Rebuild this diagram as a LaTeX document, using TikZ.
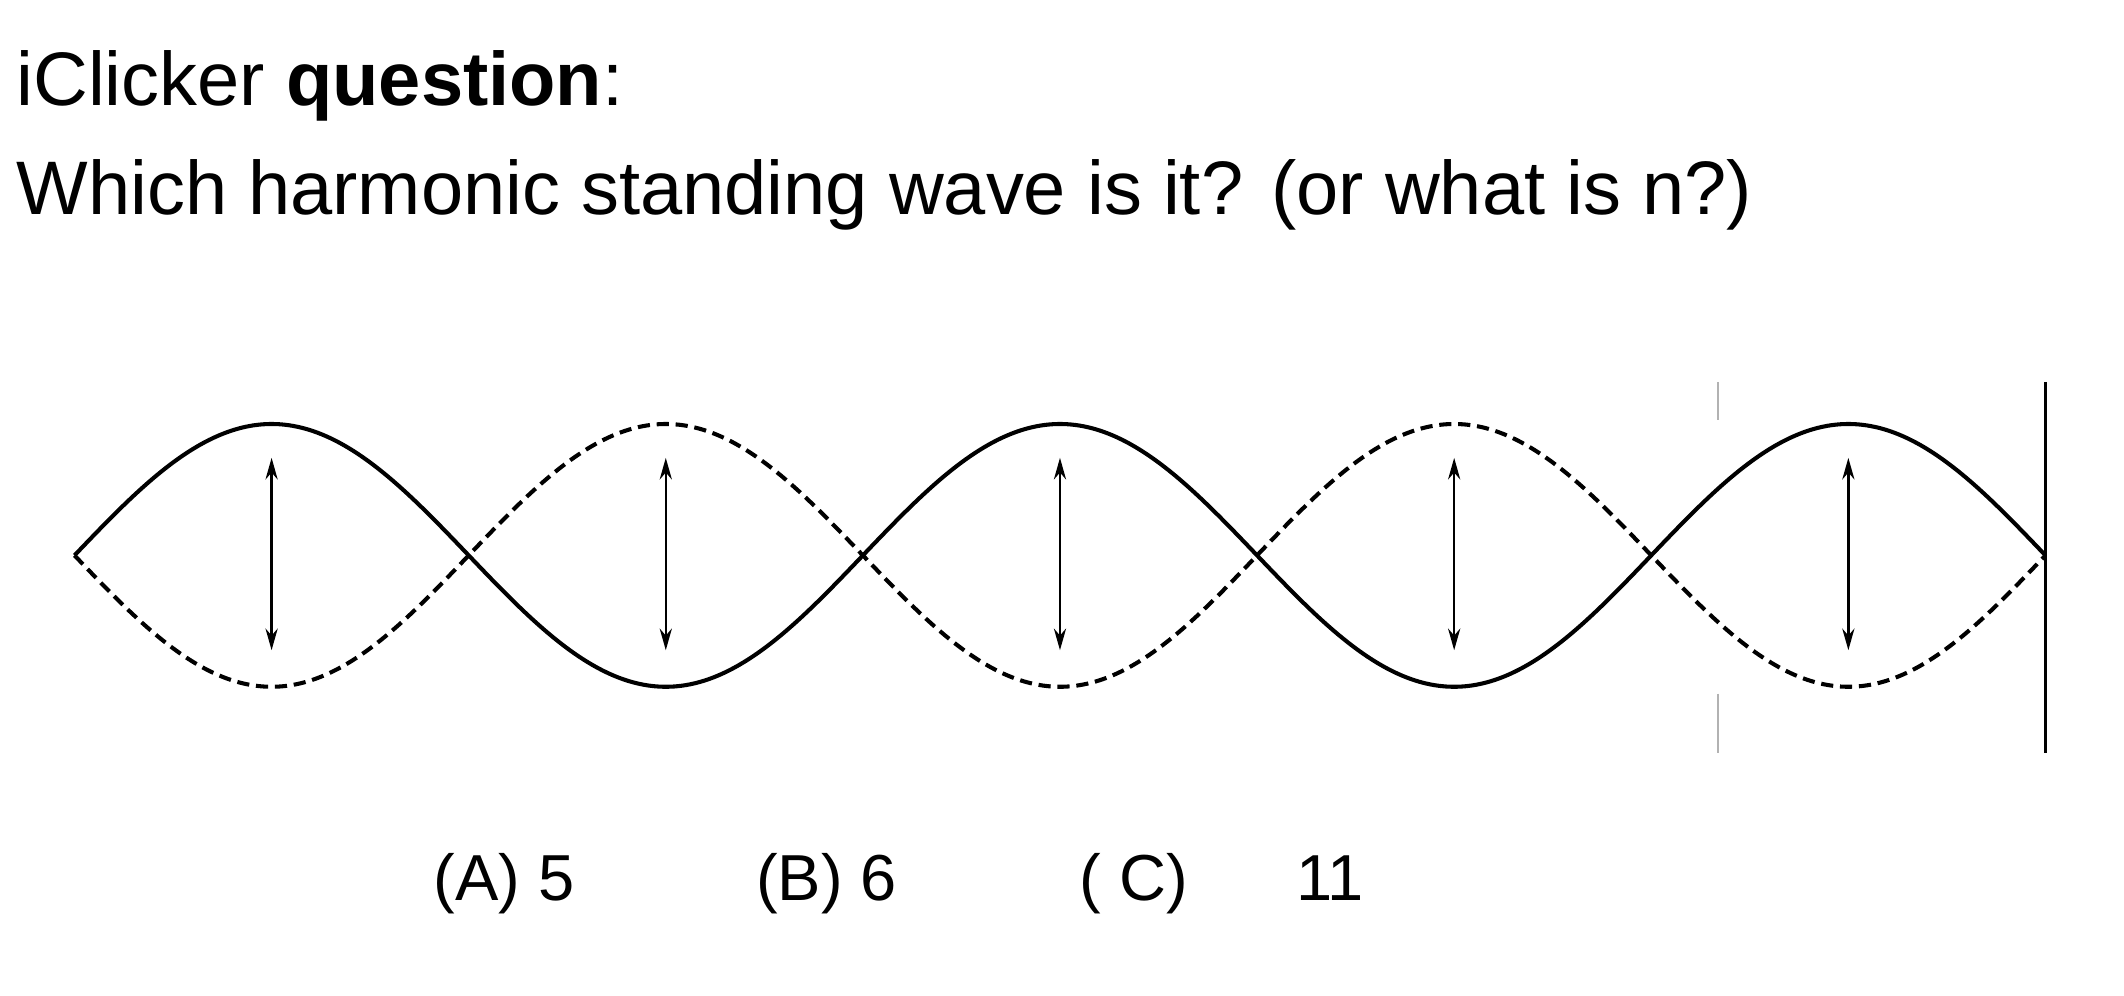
\documentclass[tikz,border=0pt]{standalone}
\usepackage{fontspec}
\setmainfont{Liberation Sans}
\usetikzlibrary{arrows.meta}
\begin{document}
\begin{tikzpicture}[x=1pt,y=-1pt,
  wave/.style={line width=3pt},
  dwave/.style={line width=3pt,dash pattern=on 9pt off 5pt},
  amp/.style={line width=1.8pt,{Stealth[length=16pt,width=9pt]}-{Stealth[length=16pt,width=9pt]}},
  txt/.style={anchor=base west,inner sep=0pt,font=\fontsize{56}{60}\selectfont},
  ans/.style={anchor=base west,inner sep=0pt,font=\fontsize{48}{52}\selectfont}]
\useasboundingbox (0,0) rectangle (1568,735);
\node[txt] (t1) at (12,78) {iClicker \textbf{question}:};
\node[txt] (t2) at (12,158) {Which harmonic standing wave is it? (or what is n?)};
\draw[wave] plot[domain=0:900,samples=300,smooth] ({55+1.61667*\x},{410-97*sin(\x)});
\draw[dwave] plot[domain=0:900,samples=300,smooth] ({55+1.61667*\x},{410+97*sin(\x)});
\foreach \i in {0,...,4}{
  \coordinate (u\i) at ({200.5+291*\i},338);
  \coordinate (d\i) at ({200.5+291*\i},480);
  \draw[amp] (u\i) -- (d\i);}
\coordinate (wt) at (1510,282); \coordinate (wb) at (1510,556);
\draw[line width=2pt] (wt) -- (wb);
\coordinate (g1) at (1268,282); \coordinate (g2) at (1268,310);
\coordinate (g3) at (1268,512); \coordinate (g4) at (1268,556);
\draw[line width=1.5pt,gray!60] (g1) -- (g2) (g3) -- (g4);
\node[ans] (a) at (320,665) {(A) 5};
\node[ans] (b) at (558,665) {(B) 6};
\node[ans] (c) at (797,665) {( C)};
\node[ans] (c2) at (957,665) {11};
\end{tikzpicture}
\end{document}
